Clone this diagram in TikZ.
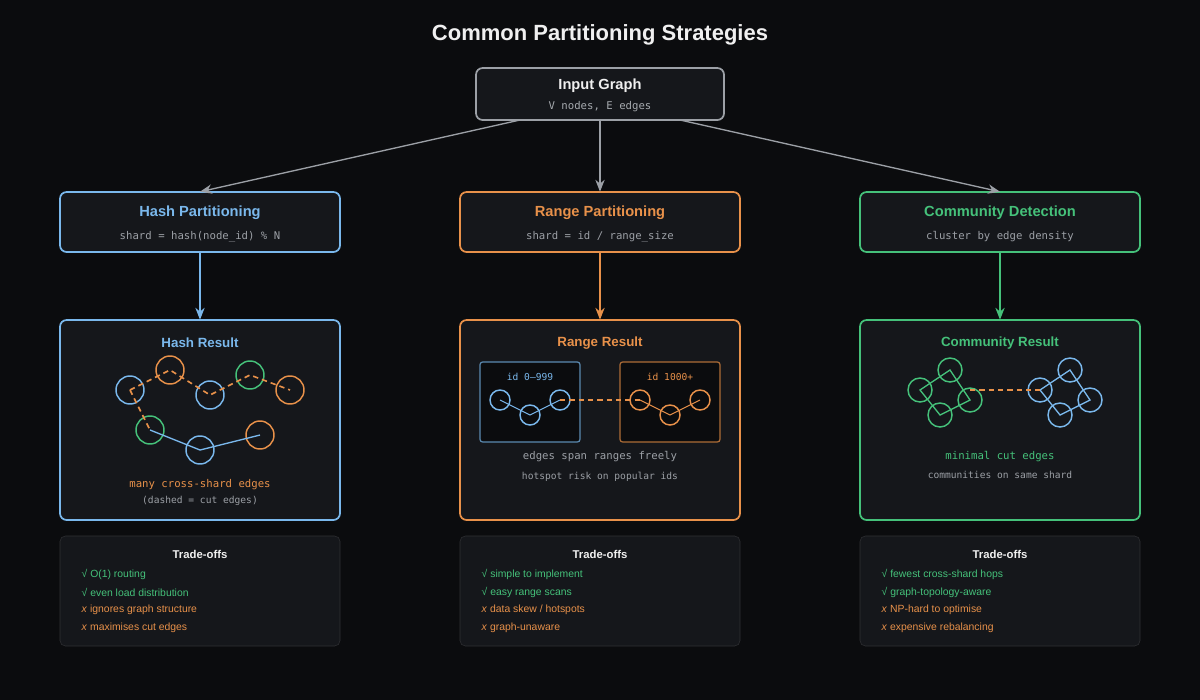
\documentclass[tikz,border=0pt]{standalone}
\usepackage{fontspec}
\setmainfont{Liberation Sans}
\setmonofont{DejaVu Sans Mono}
\usetikzlibrary{arrows.meta}
\definecolor{bg}{HTML}{0B0C0E}
\definecolor{boxf}{HTML}{15171B}
\definecolor{cb}{HTML}{7AB8EC}
\definecolor{co}{HTML}{E8914A}
\definecolor{cg}{HTML}{45C17A}
\definecolor{gr}{HTML}{9CA0A6}
\definecolor{tx}{HTML}{F0F0F0}
\begin{document}
\begin{tikzpicture}[x=0.75pt,y=-0.75pt,
 box/.style={draw=#1,fill=boxf,rounded corners=5pt,line width=1.3pt},
 arr/.style={-{Stealth[length=9pt,width=7pt]},line width=1pt,draw=#1},
 gn/.style 2 args={circle,draw=#1,line width=1.1pt,minimum size=#2,inner sep=0pt},
 ed/.style={draw=#1,line width=1pt},
 cut/.style={draw=co,line width=1.2pt,dash pattern=on 4pt off 3pt},
 mono/.style={font=\ttfamily\fontsize{8}{9}\selectfont},
 tt/.style={font=\bfseries\fontsize{11}{13}\selectfont},
 tof/.style={font=\fontsize{7.8}{9}\selectfont,anchor=west}]
\fill[bg] (0,0) rectangle (1200,700);
\useasboundingbox (0,0) rectangle (1200,700);
\node[text=tx,font=\bfseries\fontsize{16.5}{19}\selectfont] (title) at (600,35) {Common Partitioning Strategies};
% input
\draw[box=gr] (476,68) rectangle (724,120);
\node (in) at (600,94) [minimum width=186pt,minimum height=39pt] {};
\node[text=tx,tt] at (600,86) {Input Graph};
\node[text=gr!90,mono] at (600,107) {V nodes, E edges};
% level 2
\foreach \cx/\c/\t/\s/\n in {200/cb/Hash Partitioning/{shard = hash(node\_id) \% N}/h,600/co/Range Partitioning/{shard = id / range\_size}/r,1000/cg/Community Detection/{cluster by edge density}/c}{
 \draw[box=\c] (\cx-140,192) rectangle (\cx+140,252);
 \node (\n2) at (\cx,222) [minimum width=210pt,minimum height=45pt] {};
 \node[text=\c,tt] at (\cx,213) {\t};
 \node[text=gr,mono] at (\cx,237) {\s};
 \draw[box=\c] (\cx-140,320) rectangle (\cx+140,520);
 \node (\n3) at (\cx,420) [minimum width=210pt,minimum height=150pt] {};
 \draw[arr=\c] (\n2.south) -- (\n3.north);
 \draw[fill=boxf,draw=gray!25!boxf,rounded corners=4pt] (\cx-140,536) rectangle (\cx+140,646);
 \node[text=tx,font=\bfseries\fontsize{8.5}{10}\selectfont] at (\cx,554) {Trade-offs};
}
\coordinate (a1) at (520,120);\coordinate (a3) at (680,120);
\draw[arr=gr] (a1) -- (h2.north);
\draw[arr=gr] (in.south) -- (r2.north);
\draw[arr=gr] (a3) -- (c2.north);
% titles
\node[text=cb,font=\bfseries\fontsize{10}{12}\selectfont] at (200,343) {Hash Result};
\node[text=co,font=\bfseries\fontsize{10}{12}\selectfont] at (600,343) {Range Result};
\node[text=cg,font=\bfseries\fontsize{10}{12}\selectfont] at (1000,343) {Community Result};
% hash graph
\foreach \n/\x/\y/\c in {h1/130/390/cb,h2n/170/370/co,h3/210/395/cb,h4/250/375/cg,h5/290/390/co,h6/150/430/cg,h7/200/450/cb,h8/260/435/co}
 \node[gn={\c}{21pt}] (\n) at (\x,\y) {};
\draw[cut] (h1.center)--(h2n.center)--(h3.center)--(h4.center)--(h5.center);
\draw[cut] (h1.center)--(h6.center);
\draw[ed=cb] (h6.center)--(h7.center)--(h8.center);
\node[text=co,mono] at (200,485) {many cross-shard edges};
\node[text=gr,font=\ttfamily\fontsize{7.2}{9}\selectfont] at (200,501) {(dashed = cut edges)};
% range
\draw[draw=cb!75!black,fill=bg,rounded corners=2pt,line width=0.9pt] (480,362) rectangle (580,442);
\draw[draw=co!75!black,fill=bg,rounded corners=2pt,line width=0.9pt] (620,362) rectangle (720,442);
\node[text=cb,font=\ttfamily\fontsize{7.2}{9}\selectfont] at (530,377) {id 0–999};
\node[text=co,font=\ttfamily\fontsize{7.2}{9}\selectfont] at (670,377) {id 1000+};
\foreach \n/\x/\y/\c in {r1/500/400/cb,r2n/530/415/cb,r3/560/400/cb,r4/640/400/co,r5/670/415/co,r6/700/400/co}
 \node[gn={\c}{15pt}] (\n) at (\x,\y) {};
\draw[ed=cb,line width=0.7pt] (r1.center)--(r2n.center)--(r3.center);
\draw[ed=co,line width=0.7pt] (r4.center)--(r5.center)--(r6.center);
\draw[cut] (r3.center)--(r4.center);
\node[text=gr,mono] at (600,457) {edges span ranges freely};
\node[text=gr,font=\ttfamily\fontsize{7.2}{9}\selectfont] at (600,477) {hotspot risk on popular ids};
% community
\foreach \n/\x/\y/\c in {g1/920/390/cg,g2/950/370/cg,g3/970/400/cg,g4/940/415/cg,b1/1040/390/cb,b2/1070/370/cb,b3/1090/400/cb,b4/1060/415/cb}
 \node[gn={\c}{18pt}] (\n) at (\x,\y) {};
\draw[ed=cg] (g1.center)--(g2.center)--(g3.center)--(g4.center)--cycle;
\draw[ed=cb] (b1.center)--(b2.center)--(b3.center)--(b4.center)--cycle;
\draw[cut] (970,390)--(1040,390);
\node[text=cg,mono] at (1000,457) {minimal cut edges};
\node[text=gr,font=\ttfamily\fontsize{7.2}{9}\selectfont] at (1000,475) {communities on same shard};
% tradeoffs
\foreach \cx/\a/\b/\c/\d in {80/{O(1) routing}/{even load distribution}/{ignores graph structure}/{maximises cut edges},480/{simple to implement}/{easy range scans}/{data skew / hotspots}/{graph-unaware},880/{fewest cross-shard hops}/{graph-topology-aware}/{NP-hard to optimise}/{expensive rebalancing}}{
 \node[text=cg,tof] at (\cx-3,574) {√ \a};
 \node[text=cg,tof] at (\cx-3,592) {√ \b};
 \node[text=co,tof] at (\cx-3,610) {\textit{x} \c};
 \node[text=co,tof] at (\cx-3,628) {\textit{x} \d};
}
\end{tikzpicture}
\end{document}
